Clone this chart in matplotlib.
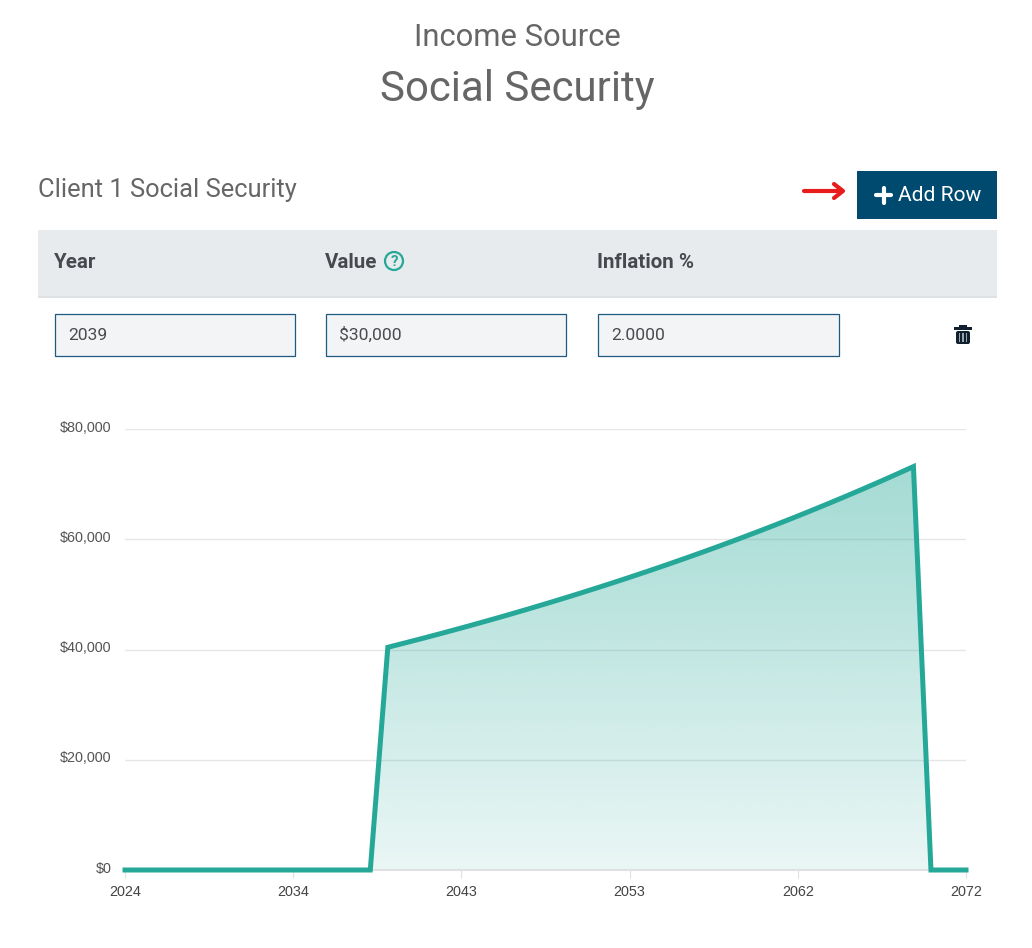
import numpy as np
import matplotlib
matplotlib.use('Agg')
import matplotlib.pyplot as plt
from matplotlib.patches import Rectangle, Circle, FancyBboxPatch, Polygon
from matplotlib.transforms import ScaledTranslation

plt.rcParams['font.family'] = ['Roboto', 'DejaVu Sans']

years = list(range(2024, 2073))
income = [0] * 15 + [40400, 41208, 42032, 42873, 43730, 44605, 45497, 46407, 47335, 48282,
                     49247, 50232, 51237, 52262, 53307, 54373, 55460, 56570, 57701, 58855,
                     60032, 61233, 62457, 63706, 64980, 66280, 67606, 68958, 70337, 71744,
                     73179] + [0, 0, 0]
x_ticks = [2024, 2033.6, 2043.2, 2052.8, 2062.4, 2072]
x_labels = ['2024', '2034', '2043', '2053', '2062', '2072']
y_ticks = [0, 20000, 40000, 60000, 80000]
y_labels = ['$0', '$20,000', '$40,000', '$60,000', '$80,000']
col_names = ['Year', 'Value', 'Inflation %']
col_values = ['2039', '$30,000', '2.0000']

TEAL = '#26a898'
W, H = 1032, 948


def px(size):
    # css pixels to points
    return size * 0.72


fig = plt.figure(figsize=(W / 100, H / 100), dpi=100, facecolor='white')

# page furniture in pixel coordinates
ui = fig.add_axes([0, 0, 1, 1])
ui.set_xlim(0, W)
ui.set_ylim(H, 0)
ui.axis('off')

ui.text(517.5, 37, 'Income Source', ha='center', va='center', fontsize=px(31), color='#666666')
ui.text(517.5, 89, 'Social Security', ha='center', va='center', fontsize=px(42), color='#666666')
ui.text(38, 190, 'Client 1 Social Security', ha='left', va='center', fontsize=px(25.5), color='#666666')

# red arrow
ui.plot([804, 842], [191, 191], color='#e81c1c', lw=3, solid_capstyle='round')
ui.plot([834, 843, 834], [184, 191, 198], color='#e81c1c', lw=3, solid_capstyle='round',
        solid_joinstyle='round')

# add row button
ui.add_patch(Rectangle((857, 171), 140, 48, color='#004a70', lw=0))
ui.plot([876, 891], [195, 195], color='white', lw=3, solid_capstyle='round')
ui.plot([883.5, 883.5], [187.5, 202.5], color='white', lw=3, solid_capstyle='round')
ui.text(898, 195, 'Add Row', ha='left', va='center', fontsize=px(21), color='white')

# table header
ui.add_patch(Rectangle((38, 230), 959, 66, color='#e8ebee', lw=0))
ui.add_patch(Rectangle((38, 296), 959, 2, color='#dfe2e5', lw=0))

col_x = [54, 325, 597]
box_w = [240, 240, 241]
for name, value, x0, w in zip(col_names, col_values, col_x, box_w):
    ui.text(x0, 262, name, ha='left', va='center', fontsize=px(20.5), fontweight='bold', color='#47494e')
    ui.add_patch(Rectangle((x0 + 0.5, 314), w, 42, facecolor='#f3f4f6', edgecolor='#1f5a80', lw=0.9))
    ui.text(x0 + 14, 335, value, ha='left', va='center', fontsize=px(17.5), color='#4a4a4f')

# help icon next to Value
ui.add_patch(Circle((394, 261), 9, facecolor='none', edgecolor=TEAL, lw=1.6))
ui.text(394, 261.5, '?', ha='center', va='center', fontsize=px(15), fontweight='bold', color=TEAL)

# trash icon
ui.add_patch(Rectangle((954, 327), 18, 2.5, color='#10202e', lw=0))
ui.add_patch(Rectangle((959, 324.5), 8, 2.5, color='#10202e', lw=0))
ui.add_patch(FancyBboxPatch((956, 331), 14, 13, boxstyle='round,pad=0,rounding_size=2',
                            color='#10202e', lw=0))
for bx in [958.7, 962.2, 965.7]:
    ui.add_patch(Rectangle((bx, 333), 1.6, 9, color='#9aa5ad', lw=0))

# chart
ax = fig.add_axes([125 / W, (H - 870) / H, 841 / W, 441 / H])
ax.patch.set_alpha(0)
ax.set_xlim(2024, 2072)
ax.set_ylim(0, 80000)

# gradient fill clipped to the area under the line
verts = list(zip(years, income)) + [(years[-1], 0), (years[0], 0)]
clip = Polygon(verts, closed=True, transform=ax.transData, facecolor='none', edgecolor='none')
ax.add_patch(clip)
grad = np.zeros((256, 1, 4))
grad[..., 0] = 0x26 / 255
grad[..., 1] = 0xa8 / 255
grad[..., 2] = 0x98 / 255
grad[:, 0, 3] = np.linspace(0.42, 0.10, 256)
img = ax.imshow(grad, extent=[2024, 2072, 0, max(income)], origin='upper', aspect='auto', zorder=2)
img.set_clip_path(clip)
ax.set_xlim(2024, 2072)
ax.set_ylim(0, 80000)

ax.plot(years, income, color=TEAL, lw=px(5), solid_joinstyle='miter', clip_on=False, zorder=3)

ax.set_yticks(y_ticks)
ax.set_yticklabels(y_labels)
ax.set_xticks(x_ticks)
ax.set_xticklabels(x_labels)
ax.grid(True, axis='y', color='#e6e6e6', lw=1)
ax.set_axisbelow(True)
for name in ['top', 'right', 'left']:
    ax.spines[name].set_visible(False)
ax.spines['bottom'].set_color('#e0e0e0')
ax.spines['bottom'].set_linewidth(1.5)
ax.tick_params(axis='y', length=0, pad=9.5, labelsize=px(14.4), labelcolor='#555555')
ax.tick_params(axis='x', length=6, width=0.8, color='#e0e0e0', pad=5, labelsize=px(14.4),
               labelcolor='#444444')
for lab in ax.get_xticklabels() + ax.get_yticklabels():
    lab.set_fontfamily(['Liberation Sans', 'DejaVu Sans'])
for lab in ax.get_yticklabels():
    lab.set_transform(lab.get_transform() + ScaledTranslation(0, 3 / 100, fig.dpi_scale_trans))

fig.savefig('out.png', dpi=100, facecolor='white')
